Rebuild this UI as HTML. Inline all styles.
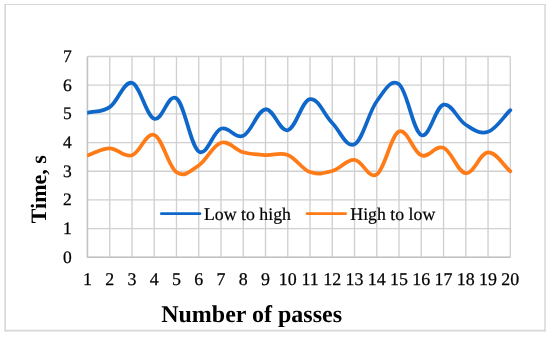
<!DOCTYPE html>
<html><head><meta charset="utf-8"><title>Chart</title>
<style>
html,body{margin:0;padding:0;background:#fff;}
body{width:550px;height:337px;overflow:hidden;}
svg{display:block;text-rendering:geometricPrecision;font-family:"Liberation Serif","Times New Roman",serif;}
.grid line{stroke:#d0d0d0;stroke-width:1.35;}
.tick text{font-size:17.9px;fill:#000;stroke:#000;stroke-width:0.25px;}
.ytick text{font-size:17.5px;fill:#000;stroke:#000;stroke-width:0.25px;}
.ttl{font-weight:bold;fill:#000;}
</style></head><body>
<svg width="550" height="337" viewBox="0 0 550 337">
<rect x="0" y="0" width="550" height="337" fill="#fff"/>
<g stroke="#d7d7d7" fill="none"><line x1="5.2" y1="3.9" x2="5.2" y2="331.4" stroke-width="1.6"/><line x1="545" y1="3.9" x2="545" y2="331.4" stroke-width="1.5"/><line x1="4.4" y1="4.45" x2="545.75" y2="4.45" stroke-width="1.1"/><line x1="4.4" y1="330.6" x2="545.75" y2="330.6" stroke-width="1.7"/></g>
<defs><clipPath id="cp"><rect x="87.2" y="0" width="470" height="337"/></clipPath></defs>
<g class="grid"><line x1="87.45" y1="56.50" x2="87.45" y2="257.30"/><line x1="109.71" y1="56.50" x2="109.71" y2="257.30"/><line x1="131.96" y1="56.50" x2="131.96" y2="257.30"/><line x1="154.22" y1="56.50" x2="154.22" y2="257.30"/><line x1="176.47" y1="56.50" x2="176.47" y2="257.30"/><line x1="198.73" y1="56.50" x2="198.73" y2="257.30"/><line x1="220.98" y1="56.50" x2="220.98" y2="257.30"/><line x1="243.24" y1="56.50" x2="243.24" y2="257.30"/><line x1="265.49" y1="56.50" x2="265.49" y2="257.30"/><line x1="287.75" y1="56.50" x2="287.75" y2="257.30"/><line x1="310.00" y1="56.50" x2="310.00" y2="257.30"/><line x1="332.26" y1="56.50" x2="332.26" y2="257.30"/><line x1="354.51" y1="56.50" x2="354.51" y2="257.30"/><line x1="376.77" y1="56.50" x2="376.77" y2="257.30"/><line x1="399.02" y1="56.50" x2="399.02" y2="257.30"/><line x1="421.28" y1="56.50" x2="421.28" y2="257.30"/><line x1="443.53" y1="56.50" x2="443.53" y2="257.30"/><line x1="465.79" y1="56.50" x2="465.79" y2="257.30"/><line x1="488.04" y1="56.50" x2="488.04" y2="257.30"/><line x1="510.30" y1="56.50" x2="510.30" y2="257.30"/><line x1="87.45" y1="257.30" x2="510.30" y2="257.30"/><line x1="87.45" y1="228.61" x2="510.30" y2="228.61"/><line x1="87.45" y1="199.93" x2="510.30" y2="199.93"/><line x1="87.45" y1="171.24" x2="510.30" y2="171.24"/><line x1="87.45" y1="142.56" x2="510.30" y2="142.56"/><line x1="87.45" y1="113.87" x2="510.30" y2="113.87"/><line x1="87.45" y1="85.19" x2="510.30" y2="85.19"/><line x1="87.45" y1="56.50" x2="510.30" y2="56.50"/></g>
<path d="M87.45 56.5 V257.3 H510.3" fill="none" stroke="#c2c2c2" stroke-width="1.4"/>
<path d="M87.45 112.72 C94.87 110.86 101.47 112.65 109.71 107.13 C117.94 101.61 123.73 80.74 131.96 82.89 C140.19 85.04 145.98 115.88 154.22 118.75 C162.45 121.61 168.24 92.33 176.47 98.38 C184.71 104.43 190.49 145.82 198.73 151.45 C206.96 157.07 212.75 131.68 220.98 128.79 C229.22 125.90 235.00 139.42 243.24 135.82 C251.47 132.21 257.26 110.32 265.49 109.28 C273.73 108.25 279.51 132.11 287.75 130.22 C295.98 128.34 301.77 100.42 310.00 99.10 C318.24 97.77 324.02 114.69 332.26 123.05 C340.49 131.41 346.28 148.31 354.51 144.28 C362.75 140.25 368.53 112.34 376.77 101.25 C385.00 90.16 390.79 78.06 399.02 84.33 C407.26 90.59 413.04 131.33 421.28 135.10 C429.51 138.87 435.30 106.60 443.53 104.69 C451.77 102.78 457.56 119.76 465.79 124.77 C474.02 129.79 479.81 134.51 488.04 131.80 C496.28 129.09 502.88 117.36 510.30 110.14" fill="none" stroke="#0f68c9" stroke-width="3.75" stroke-linecap="round" clip-path="url(#cp)" stroke-linejoin="round"/>
<path d="M87.45 155.47 C94.87 153.08 101.47 148.32 109.71 148.29 C117.94 148.27 123.73 157.79 131.96 155.32 C140.19 152.85 145.98 131.82 154.22 134.96 C162.45 138.09 168.24 166.60 176.47 172.25 C184.71 177.90 190.49 170.97 198.73 165.51 C206.96 160.04 212.75 145.14 220.98 142.70 C229.22 140.26 235.00 150.03 243.24 152.31 C251.47 154.59 257.26 154.56 265.49 155.04 C273.73 155.51 279.51 151.73 287.75 154.89 C295.98 158.05 301.77 169.13 310.00 172.10 C318.24 175.08 324.02 173.21 332.26 170.96 C340.49 168.70 346.28 159.28 354.51 159.91 C362.75 160.55 368.53 179.65 376.77 174.40 C385.00 169.14 390.79 135.04 399.02 131.51 C407.26 127.98 413.04 152.30 421.28 155.32 C429.51 158.35 435.30 144.55 443.53 147.86 C451.77 151.18 457.56 172.40 465.79 173.25 C474.02 174.10 479.81 152.83 488.04 152.45 C496.28 152.08 502.88 164.98 510.30 171.24" fill="none" stroke="#ff7b17" stroke-width="3.75" stroke-linecap="round" clip-path="url(#cp)" stroke-linejoin="round"/>
<g class="ytick"><text x="71.8" y="262.70" text-anchor="end">0</text><text x="71.8" y="234.01" text-anchor="end">1</text><text x="71.8" y="205.33" text-anchor="end">2</text><text x="71.8" y="176.64" text-anchor="end">3</text><text x="71.8" y="147.96" text-anchor="end">4</text><text x="71.8" y="119.27" text-anchor="end">5</text><text x="71.8" y="90.59" text-anchor="end">6</text><text x="71.8" y="61.90" text-anchor="end">7</text></g>
<g class="tick"><text x="87.45" y="284.6" text-anchor="middle">1</text><text x="109.71" y="284.6" text-anchor="middle">2</text><text x="131.96" y="284.6" text-anchor="middle">3</text><text x="154.22" y="284.6" text-anchor="middle">4</text><text x="176.47" y="284.6" text-anchor="middle">5</text><text x="198.73" y="284.6" text-anchor="middle">6</text><text x="220.98" y="284.6" text-anchor="middle">7</text><text x="243.24" y="284.6" text-anchor="middle">8</text><text x="265.49" y="284.6" text-anchor="middle">9</text><text x="287.75" y="284.6" text-anchor="middle">10</text><text x="310.00" y="284.6" text-anchor="middle">11</text><text x="332.26" y="284.6" text-anchor="middle">12</text><text x="354.51" y="284.6" text-anchor="middle">13</text><text x="376.77" y="284.6" text-anchor="middle">14</text><text x="399.02" y="284.6" text-anchor="middle">15</text><text x="421.28" y="284.6" text-anchor="middle">16</text><text x="443.53" y="284.6" text-anchor="middle">17</text><text x="465.79" y="284.6" text-anchor="middle">18</text><text x="488.04" y="284.6" text-anchor="middle">19</text><text x="510.30" y="284.6" text-anchor="middle">20</text></g>
<line x1="161.4" y1="213.65" x2="199.9" y2="213.65" stroke="#0f68c9" stroke-width="2.9" stroke-linecap="round"/>
<text x="204" y="219.5" font-size="17.8" stroke="#000" stroke-width="0.2">Low to high</text>
<line x1="307.1" y1="213.65" x2="345.6" y2="213.65" stroke="#ff7b17" stroke-width="2.9" stroke-linecap="round"/>
<text x="350.3" y="219.5" font-size="17.8" stroke="#000" stroke-width="0.2">High to low</text>
<text class="ttl" x="251.6" y="322" font-size="24" text-anchor="middle">Number of passes</text>
<text class="ttl" transform="translate(46,189.2) rotate(-90)" font-size="22" text-anchor="middle">Time, s</text>
</svg>
</body></html>
